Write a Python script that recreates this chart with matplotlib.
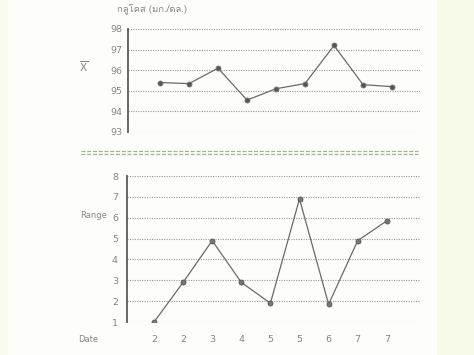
import matplotlib
matplotlib.use("Agg")
import matplotlib.pyplot as plt
from matplotlib import font_manager, ft2font
from matplotlib.lines import Line2D
from matplotlib.patches import Rectangle

# ---- data ----
dates = ["2", "2", "3", "4", "5", "5", "6", "7", "7"]
xbar_values = [95.4, 95.35, 96.1, 94.55, 95.1, 95.35, 97.2, 95.3, 95.2]
range_values = [1.0, 2.9, 4.9, 2.9, 1.9, 6.9, 1.85, 4.9, 5.85]
xbar_ticks = [93, 94, 95, 96, 97, 98]
range_ticks = [1, 2, 3, 4, 5, 6, 7, 8]
title_text = "กลูโคส (มก./ดล.)"

# find a font with Thai glyphs
thai_font = None
for f in font_manager.fontManager.ttflist:
    try:
        cm = ft2font.FT2Font(f.fname).get_charmap()
        if 0x0E01 in cm and 0x0E42 in cm:
            thai_font = f.name
            break
    except Exception:
        pass
title_family = [thai_font, "DejaVu Sans"] if thai_font else ["DejaVu Sans"]

W, H = 474, 355
fig = plt.figure(figsize=(W / 100, H / 100), dpi=100, facecolor="#fdfef9")

def fx(px):
    return px / W

def fy(py):
    return 1 - py / H

# background strips
fig.patches.append(Rectangle((fx(437), 0), fx(W - 437), 1, transform=fig.transFigure,
                             facecolor="#f7fae8", edgecolor="none", zorder=0))
fig.patches.append(Rectangle((0, 0), fx(8), 1, transform=fig.transFigure,
                             facecolor="#f9fbef", edgecolor="none", zorder=0))

text_col = "#858585"
line_col = "#6a6a6a"
grid_col = "#9a9a9a"
spine_col = "#5a5a5a"

def setup(ax, ticks, pad):
    ax.set_facecolor("none")
    for s in ["top", "right", "bottom"]:
        ax.spines[s].set_visible(False)
    ax.spines["left"].set_color(spine_col)
    ax.spines["left"].set_linewidth(1.3)
    ax.set_yticks(ticks)
    ax.tick_params(axis="y", length=0, pad=pad, labelsize=6.8, labelcolor=text_col)
    for t in ticks:
        ax.axhline(t, color=grid_col, lw=0.8, ls=(0, (1, 1.2)), zorder=1)

# ---- top axis (X-bar) ----
top_l, top_r = 128, 420
top_y98, top_y93 = 29, 132
ax1 = fig.add_axes([fx(top_l), fy(top_y93), fx(top_r - top_l), (top_y93 - top_y98) / H])
x0_top, dx_top = 160, 29.0
ax1.set_xlim((top_l - x0_top) / dx_top, (top_r - x0_top) / dx_top)
ax1.set_ylim(93, 98)
setup(ax1, xbar_ticks, 4)
ax1.set_xticks([])
xs = list(range(len(dates)))
ax1.plot(xs, xbar_values, color=line_col, lw=0.9, marker="o", ms=3.6,
         mfc="#555555", mec="#777777", mew=0.6, zorder=3)

# ---- bottom axis (Range) ----
bot_l, bot_r = 127, 420
bot_y8, bot_y1 = 176, 322
ax2 = fig.add_axes([fx(bot_l), fy(bot_y1), fx(bot_r - bot_l), (bot_y1 - bot_y8) / H])
x0_bot, dx_bot = 154, 29.1
ax2.set_xlim((bot_l - x0_bot) / dx_bot, (bot_r - x0_bot) / dx_bot)
ax2.set_ylim(1, 8)
setup(ax2, range_ticks, 6.5)
ax2.set_xticks(xs)
ax2.set_xticklabels(dates)
ax2.tick_params(axis="x", length=0, pad=9.5, labelsize=6.8, labelcolor=text_col)
ax2.plot(xs, range_values, color=line_col, lw=0.9, marker="o", ms=3.6,
         mfc="#777777", mec="#555555", mew=0.6, zorder=3)

# ---- labels ----
fig.text(fx(117), fy(9), title_text, family=title_family, fontsize=6.8,
         color=text_col, ha="left", va="center")
fig.text(fx(84), fy(67), r"$\overline{\mathsf{X}}$", fontsize=7.5,
         color=text_col, ha="center", va="center")
fig.text(fx(80), fy(215), "Range", fontsize=6, color=text_col, ha="left", va="center")
fig.text(fx(78), fy(340), "Date", fontsize=6, color=text_col, ha="left", va="center")

# ---- double dashed separator ----
for yy in (150.5, 153.5):
    fig.add_artist(Line2D([fx(81), fx(418)], [fy(yy), fy(yy)], transform=fig.transFigure,
                          color="#9fb296", lw=0.9, ls=(0, (3.2, 1.4))))

fig.savefig("out.png", dpi=100, facecolor=fig.get_facecolor())
